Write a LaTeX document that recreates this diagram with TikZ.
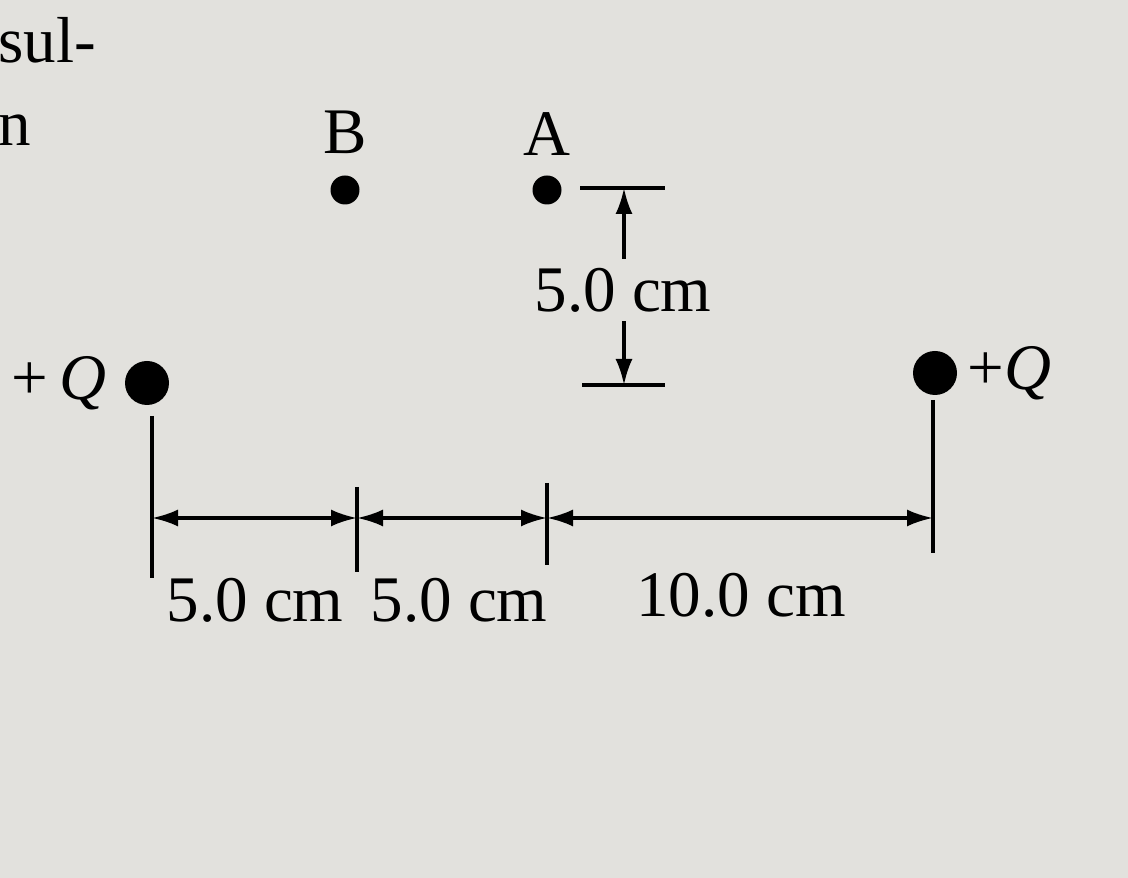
\documentclass[tikz,border=0pt]{standalone}
\usepackage{fontspec}
\setmainfont{Liberation Serif}
\usepackage{xcolor}
\usepackage{tikz}
\usetikzlibrary{positioning,arrows.meta}
\definecolor{screen}{RGB}{226,225,221}

\begin{document}
\begin{tikzpicture}[
    node distance=0.1cm,
    charge/.style={circle, fill=black, inner sep=0pt, minimum size=0.44cm},
    point/.style={circle, fill=black, inner sep=0pt, minimum size=0.29cm},
    label/.style={font=\fontsize{18.5}{20}\selectfont, inner sep=1pt},
    guide/.style={line width=0.95pt},
    dim/.style={line width=0.9pt, {Latex[length=0.26cm,width=0.17cm]}-{Latex[length=0.26cm,width=0.17cm]}},
    arrow/.style={line width=0.9pt, -{Latex[length=0.26cm,width=0.17cm]}}
]

% Background
\fill[screen] (0,0) rectangle (11.28,8.78);
\useasboundingbox (0,0) rectangle (11.28,8.78);

% Cut-off text of the page
\node (sul) [label, anchor=west] at (-0.06,8.38) {sul-};
\node (txtn) [label, anchor=west] at (-0.06,7.48) {n};

% Charges
\node (qL) [charge] at (1.47,4.95) {};
\node (qR) [charge] at (9.35,5.05) {};
\node (qLlab) [label, left=0.14cm of qL] {+\,\textit{Q}};
\node (qRlab) [label, right=0.06cm of qR] {+\textit{Q}};

% Points A and B
\node (B) [point] at (3.45,6.88) {};
\node (A) [point] at (5.47,6.88) {};
\node (Blab) [label, above=0.17cm of B] {B};
\node (Alab) [label, above=0.15cm of A] {A};

% Vertical dimension
\coordinate (topL) at (5.80,6.90);
\coordinate (topR) at (6.65,6.90);
\coordinate (botL) at (5.82,4.93);
\coordinate (botR) at (6.65,4.93);
\coordinate (topTip) at (6.24,6.90);
\coordinate (botTip) at (6.24,4.93);
\node (vlab) [label] at (6.23,5.88) {5.0 cm};
\draw[guide] (topL) -- (topR);
\draw[guide] (botL) -- (botR);
\draw[arrow] (vlab.north -| topTip) ++(0,0.05) -- (topTip);
\draw[arrow] (vlab.south -| botTip) ++(0,-0.05) -- (botTip);

% Extension lines
\coordinate (e1t) at (1.52,4.62);
\coordinate (e1b) at (1.52,3.00);
\coordinate (e2t) at (3.57,3.91);
\coordinate (e2b) at (3.57,3.06);
\coordinate (e3t) at (5.47,3.95);
\coordinate (e3b) at (5.47,3.13);
\coordinate (e4t) at (9.33,4.78);
\coordinate (e4b) at (9.33,3.25);
\draw[guide] (e1t) -- (e1b);
\draw[guide] (e2t) -- (e2b);
\draw[guide] (e3t) -- (e3b);
\draw[guide] (e4t) -- (e4b);

% Horizontal dimensions
\coordinate (d1) at (1.52,3.60);
\coordinate (d2) at (3.57,3.60);
\coordinate (d3) at (5.47,3.60);
\coordinate (d4) at (9.33,3.60);
\draw[dim] (d1) -- (d2);
\draw[dim] (d2) -- (d3);
\draw[dim] (d3) -- (d4);

% Dimension labels
\node (h1lab) [label] at (2.55,2.78) {5.0 cm};
\node (h2lab) [label] at (4.59,2.78) {5.0 cm};
\node (h3lab) [label] at (7.41,2.83) {10.0 cm};

\end{tikzpicture}
\end{document}
